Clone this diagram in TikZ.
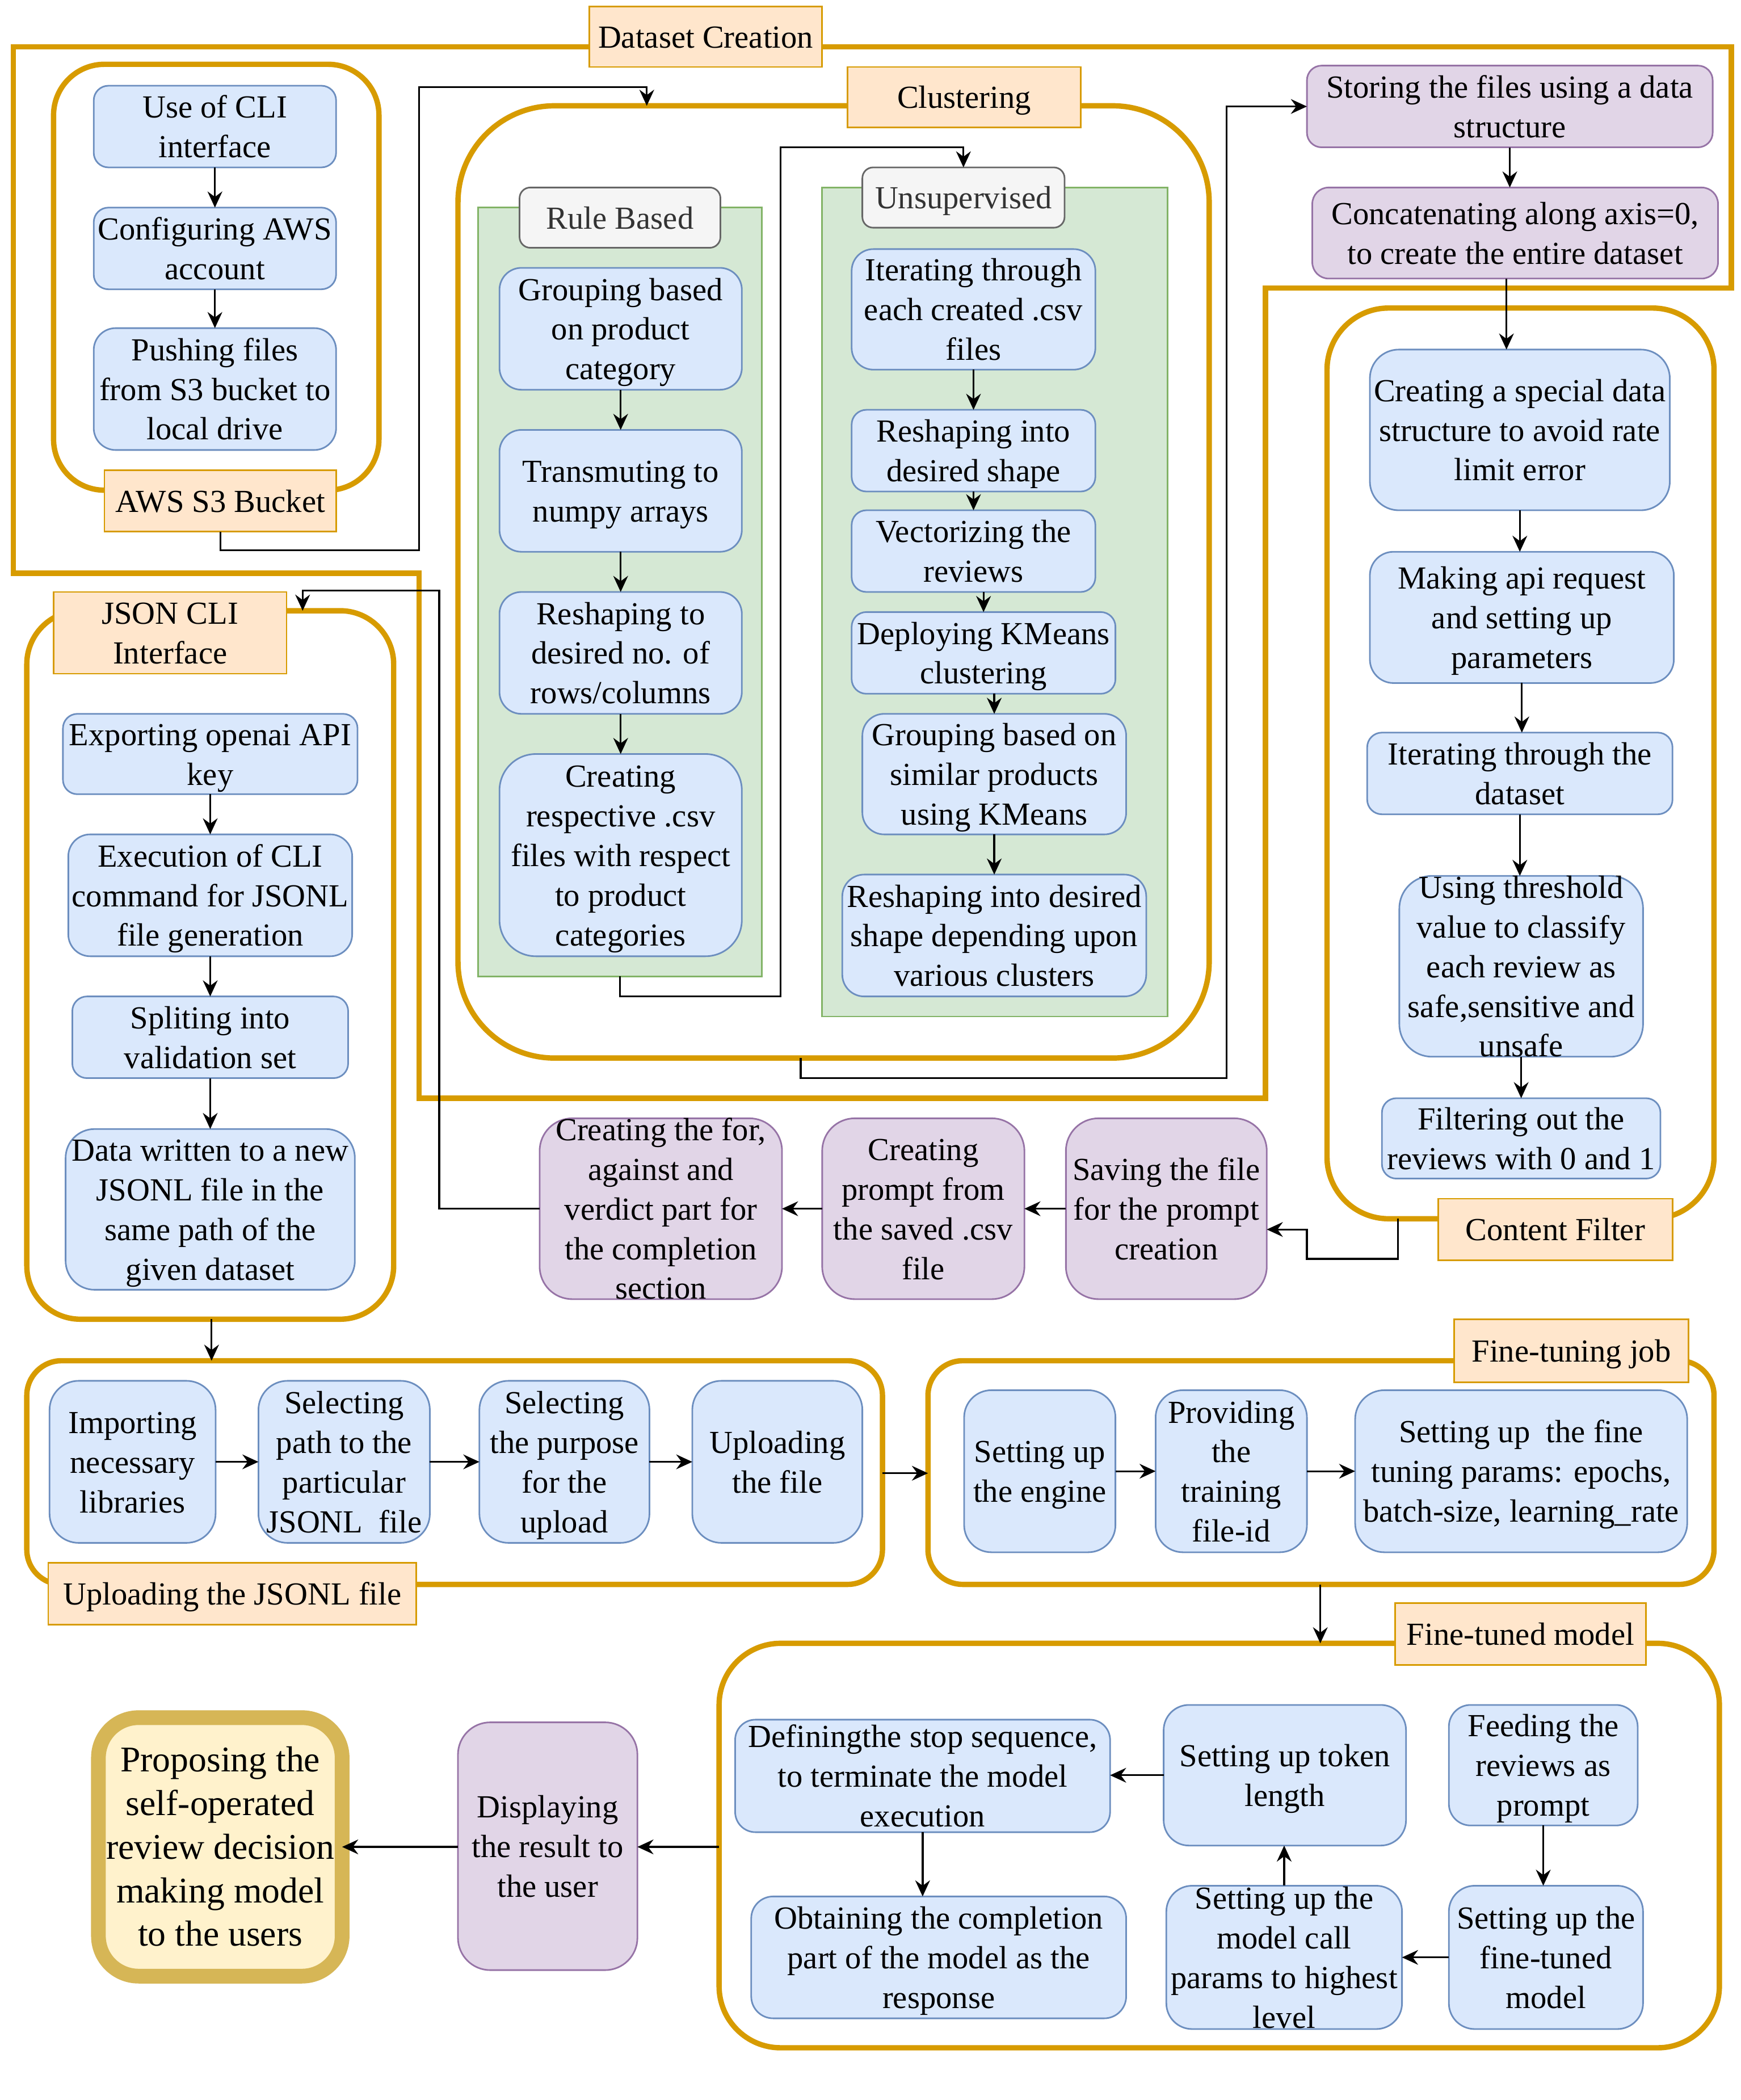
\documentclass[tikz,border=0pt]{standalone}
\usepackage{fontspec}
\setmainfont{Liberation Serif}
\usetikzlibrary{arrows.meta}
\definecolor{bluef}{HTML}{DAE8FC}\definecolor{bluel}{HTML}{6C8EBF}
\definecolor{purf}{HTML}{E1D5E7}\definecolor{purl}{HTML}{9673A6}
\definecolor{grnf}{HTML}{D5E8D4}\definecolor{grnl}{HTML}{82B366}
\definecolor{orgf}{HTML}{FFE6CC}\definecolor{orgl}{HTML}{D79B00}
\definecolor{gryf}{HTML}{F5F5F5}\definecolor{gryl}{HTML}{666666}\definecolor{gryt}{HTML}{333333}
\definecolor{yelf}{HTML}{FFF2CC}\definecolor{yell}{HTML}{D6B656}
\tikzset{
 base/.style={inner sep=0pt, outer sep=0pt, align=center, font=\fontsize{12}{14.8}\selectfont},
 bluebox/.style={base, draw=bluel, fill=bluef, line width=0.6pt},
 purbox/.style={base, draw=purl, fill=purf, line width=0.6pt},
 grnpanel/.style={base, draw=grnl, fill=grnf, line width=0.6pt, sharp corners},
 graylbl/.style={base, draw=gryl, fill=gryf, text=gryt, line width=0.6pt, rounded corners=4pt},
 orglbl/.style={base, draw=orgl, fill=orgf, line width=0.6pt, sharp corners},
 contbox/.style={base, draw=orgl, line width=2pt},
 finalbox/.style={base, draw=yell, fill=yelf, line width=5.5pt, rounded corners=15pt, font=\fontsize{13.5}{16.3}\selectfont},
 arr/.style={draw=black, line width=0.7pt, -{Stealth[length=6pt,width=5.5pt,inset=2pt]}},
}
\newcommand\bx[7]{%
 \pgfmathsetmacro\bxw{(#5-#3)*0.5}%
 \pgfmathsetmacro\bxh{(#6-#4)*0.5}%
 \pgfmathsetmacro\bxr{0.18*min(\bxw,\bxh)}%
 \node[minimum width=\bxw pt, minimum height=\bxh pt, rounded corners=\bxr pt, #2] (#1) at ({(#3+#5)/2},{(#4+#6)/2}) {};
 \node[minimum width=0pt, minimum height=0pt, #2, draw=none, fill=none, yshift=-1.2pt] at (#1.center) {\begin{tabular}{@{}c@{}}#7\end{tabular}};}
\begin{document}
\begin{tikzpicture}[x=0.5pt,y=-0.5pt]
\useasboundingbox[fill=white] (0,0) rectangle (1300,1568);
% Dataset creation outline
\draw[orgl, line width=2pt] (10,35) -- (1293,35) -- (1293,215) -- (945,215) -- (945,820) -- (313,820) -- (313,428) -- (10,428) -- cycle;
% containers
\bx{aws}{contbox, rounded corners=19pt}{40}{48}{283}{366}{}
\bx{clust}{contbox, rounded corners=36pt}{342}{79}{903}{790}{}
\bx{cf}{contbox, rounded corners=23pt}{991}{230}{1280}{910}{}
\bx{json}{contbox, rounded corners=20pt}{20}{456}{294}{985}{}
\bx{upl}{contbox, rounded corners=13pt}{20}{1016}{659}{1183}{}
\bx{ftj}{contbox, rounded corners=13pt}{693}{1016}{1280}{1183}{}
\bx{ftm}{contbox, rounded corners=23pt}{537}{1227}{1284}{1529}{}
% green panels
\bx{rulep}{grnpanel}{357}{155}{569}{729}{}
\bx{unsp}{grnpanel}{614}{140}{872}{759}{}
\bx{rulelbl}{graylbl}{388}{140}{538}{185}{Rule Based}
\bx{unslbl}{graylbl}{644}{125}{795}{170}{Unsupervised}
% labels
\bx{dslbl}{orglbl}{440}{5}{614}{50}{Dataset Creation}
\bx{awslbl}{orglbl}{78}{351}{251}{397}{AWS S3 Bucket}
\bx{clustlbl}{orglbl}{633}{50}{807}{95}{Clustering}
\bx{cflbl}{orglbl}{1074}{895}{1249}{941}{Content Filter}
\bx{jsonlbl}{orglbl}{40}{442}{214}{503}{JSON CLI\\Interface}
\bx{upllbl}{orglbl}{36}{1167}{311}{1213}{Uploading the JSONL file}
\bx{ftjlbl}{orglbl}{1086}{985}{1261}{1032}{Fine-tuning job}
\bx{ftmlbl}{orglbl}{1042}{1197}{1229}{1243}{Fine-tuned model}
% AWS boxes
\bx{a1}{bluebox}{70}{64}{251}{125}{Use of CLI\\interface}
\bx{a2}{bluebox}{70}{155}{251}{216}{Configuring AWS\\account}
\bx{a3}{bluebox}{70}{245}{251}{336}{Pushing files\\from S3 bucket to\\local drive}
% Rule based
\bx{r1}{bluebox}{373}{200}{554}{291}{Grouping based\\on product\\category}
\bx{r2}{bluebox}{373}{321}{554}{412}{Transmuting to\\numpy arrays}
\bx{r3}{bluebox}{373}{442}{554}{533}{Reshaping to\\desired no. of\\rows/columns}
\bx{r4}{bluebox}{373}{563}{554}{714}{Creating\\respective .csv\\files with respect\\to product\\categories}
% Unsupervised
\bx{u1}{bluebox}{636}{186}{818}{276}{Iterating through\\each created .csv\\files}
\bx{u2}{bluebox}{636}{306}{818}{367}{Reshaping into\\desired shape}
\bx{u3}{bluebox}{636}{381}{818}{442}{Vectorizing the\\reviews}
\bx{u4}{bluebox}{636}{457}{833}{518}{Deploying KMeans\\clustering}
\bx{u5}{bluebox}{644}{533}{841}{623}{Grouping based on\\similar products\\using KMeans}
\bx{u6}{bluebox}{629}{653}{856}{744}{Reshaping into desired\\shape depending upon\\various clusters}
% storing
\bx{s1}{purbox}{976}{49}{1279}{110}{Storing the files using a data\\structure}
\bx{s2}{purbox}{980}{140}{1283}{208}{Concatenating along axis=0,\\to create the entire dataset}
% content filter
\bx{c1}{bluebox}{1023}{261}{1247}{381}{Creating a special data\\structure to avoid rate\\limit error}
\bx{c2}{bluebox}{1023}{412}{1250}{510}{Making api request\\and setting up\\parameters}
\bx{c3}{bluebox}{1021}{547}{1249}{608}{Iterating through the\\dataset}
\bx{c4}{bluebox}{1045}{654}{1227}{789}{Using threshold\\value to classify\\each review as\\safe,sensitive and\\unsafe}
\bx{c5}{bluebox}{1032}{820}{1240}{880}{Filtering out the\\reviews with 0 and 1}
% middle row
\bx{v1}{purbox}{403}{835}{584}{970}{Creating the for,\\against and\\verdict part for\\the completion\\section}
\bx{v2}{purbox}{614}{835}{765}{970}{Creating\\prompt from\\the saved .csv\\file}
\bx{v3}{purbox}{796}{835}{946}{970}{Saving the file\\for the prompt\\creation}
% JSON
\bx{j1}{bluebox}{47}{533}{267}{593}{Exporting openai API\\key}
\bx{j2}{bluebox}{51}{623}{263}{714}{Execution of CLI\\command for JSONL\\file generation}
\bx{j3}{bluebox}{54}{744}{260}{805}{Spliting into\\validation set}
\bx{j4}{bluebox}{49}{843}{265}{963}{Data written to a new\\JSONL file in the\\same path of the\\given dataset}
% upload
\bx{p1}{bluebox}{37}{1031}{161}{1152}{Importing\\necessary\\libraries}
\bx{p2}{bluebox}{193}{1031}{321}{1152}{Selecting\\path to the\\particular\\JSONL\ \ file}
\bx{p3}{bluebox}{358}{1031}{485}{1152}{Selecting\\the purpose\\for the\\upload}
\bx{p4}{bluebox}{517}{1031}{644}{1152}{Uploading\\the file}
% fine-tuning job
\bx{f1}{bluebox}{720}{1038}{833}{1159}{Setting up\\the engine}
\bx{f2}{bluebox}{863}{1038}{976}{1159}{Providing\\the\\training\\file-id}
\bx{f3}{bluebox}{1012}{1038}{1260}{1159}{Setting up\ \ the fine\\tuning params: epochs,\\batch-size, learning\_rate}
% fine-tuned model
\bx{m1}{bluebox}{549}{1284}{829}{1368}{Definingthe stop sequence,\\to terminate the model\\execution}
\bx{m2}{bluebox}{869}{1273}{1050}{1378}{Setting up token\\length}
\bx{m3}{bluebox}{1082}{1273}{1223}{1363}{Feeding the\\reviews as\\prompt}
\bx{m4}{bluebox}{561}{1416}{841}{1507}{Obtaining the completion\\part of the model as the\\response}
\bx{m5}{bluebox}{871}{1408}{1047}{1515}{Setting up the\\model call\\params to highest\\level}
\bx{m6}{bluebox}{1082}{1408}{1227}{1515}{Setting up the\\fine-tuned\\model}
% final
\bx{disp}{purbox}{342}{1286}{476}{1471}{Displaying\\the result to\\the user}
\bx{prop}{finalbox}{73.5}{1282.5}{255.5}{1475.5}{Proposing the\\self-operated\\review decision\\making model\\to the users}
% internal arrows
\draw[arr] (a1.south) -- (a2.north);
\draw[arr] (a2.south) -- (a3.north);
\draw[arr] (r1.south) -- (r2.north);
\draw[arr] (r2.south) -- (r3.north);
\draw[arr] (r3.south) -- (r4.north);
\draw[arr] (u1.south) -- (u2.north);
\draw[arr] (u2.south) -- (u3.north);
\draw[arr] (u3.south -| u4.north) -- (u4.north);
\draw[arr] (u4.south -| u5.north) -- (u5.north);
\draw[arr] (u5.south) -- (u5.south |- u6.north);
\draw[arr] (s1.south) -- (s1.south |- s2.north);
\draw[arr] (c1.south) -- (c1.south |- c2.north);
\draw[arr] (c2.south) -- (c2.south |- c3.north);
\draw[arr] (c3.south) -- (c3.south |- c4.north);
\draw[arr] (c4.south) -- (c4.south |- c5.north);
\draw[arr] (j1.south) -- (j2.north);
\draw[arr] (j2.south) -- (j3.north);
\draw[arr] (j3.south) -- (j4.north);
\draw[arr] (p1.east) -- (p2.west);
\draw[arr] (p2.east) -- (p3.west);
\draw[arr] (p3.east) -- (p4.west);
\draw[arr] (f1.east) -- (f2.west);
\draw[arr] (f2.east) -- (f3.west);
\draw[arr] (m3.south) -- (m3.south |- m6.north);
\draw[arr] (m6.west) -- (m6.west -| m5.east);
\draw[arr] (m5.north) -- (m5.north |- m2.south);
\draw[arr] (m2.west) -- (m2.west -| m1.east);
\draw[arr] (m1.south) -- (m1.south |- m4.north);
\draw[arr] (v3.west) -- (v2.east);
\draw[arr] (v2.west) -- (v1.east);
% connectors between groups
\draw[arr] (awslbl.south) |- (313,411) |- (483,65) -- (483,65 |- clust.north);
\draw[arr] (rulep.south) |- (583,744) |- (unslbl.north |- 0,110) -- (unslbl.north);
\draw[arr] (clust.south -| 598,0) |- (916,805) |- (s1.west);
\draw[arr] (s2.south -| 1125,0) -- (c1.north -| 1125,0);
\draw[arr] (cf.south -| 1044,0) |- (976,940) |- (v3.east |- 0,918);
\draw[arr] (v1.west) -| (328,441) -| (json.north -| 226,0);
\draw[arr] (json.south -| 158,0) -- (upl.north -| 158,0);
\draw[arr] (upl.east |- 0,1100) -- (ftj.west |- 0,1100);
\draw[arr] (ftj.south -| 986,0) -- (ftm.north -| 986,0);
\draw[arr] (ftm.west |- 0,1379) -- (disp.east |- 0,1379);
\draw[arr] (disp.west |- 0,1379) -- (prop.east |- 0,1379);
\end{tikzpicture}
\end{document}
